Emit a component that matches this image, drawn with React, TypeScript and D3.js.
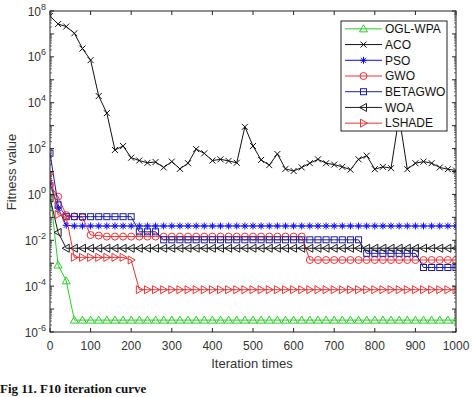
import React from "react";
import * as d3 from "d3";

const ITERS = d3.range(0, 1001, 20);

const acoValues = [6.0e7, 2.7e7, 2.1e7, 1.07e7, 2.3e6, 7.2e5, 1.95e4, 3.5e3, 87, 129, 40, 30, 24, 26, 15, 27, 13, 23, 95, 62, 30, 34, 29, 24, 890, 129, 32, 19, 58, 13, 10.5, 15, 23, 34, 23, 20, 16, 12, 34, 49, 12.6, 16, 14, 2500, 12.6, 23, 27, 23, 15, 12.6, 11];

const fill = (v: number, n: number) => Array(n).fill(v);

const oglValues = [1.3, 8.3e-4, 1.7e-4, ...fill(3.3e-6, 48)];
const psoValues = [3.2, 0.25, 0.045, ...fill(0.042, 48)];
const gwoValues = [2.5, 0.8, 0.125, 0.11, 0.1, 0.017, 0.016, ...fill(0.0145, 25), ...fill(0.00138, 19)];
const betaValues = [63, 0.35, ...fill(0.107, 9), ...fill(0.0234, 3), ...fill(0.0105, 25), ...fill(0.0027, 7), ...fill(0.00065, 5)];
const woaValues = [0.7, 0.022, ...fill(0.0045, 49)];
const lshadeValues = [8, 0.13, 0.1, ...fill(0.0018, 7), 0.00138, ...fill(7e-5, 40)];

const seriesNames = ["OGL-WPA", "ACO", "PSO", "GWO", "BETAGWO", "WOA", "LSHADE"];
const seriesValues = [oglValues, acoValues, psoValues, gwoValues, betaValues, woaValues, lshadeValues];
const seriesColors = ["#2ecc2e", "#111111", "#0a0aff", "#e8343a", "#1e1e9e", "#1a1a1a", "#e23636"];
const seriesMarkers = ["triUp", "x", "star", "circle", "square", "triLeft", "triRight"];

const xTicks = d3.range(0, 1001, 100);
const yLabelExps = [-6, -4, -2, 0, 2, 4, 6, 8];

const W = 474, H = 397;
const L = 50, R = 456, T = 11, B = 332;

function Marker({ type, x, y, color }: { type: string; x: number; y: number; color: string }) {
  const p = { fill: "none", stroke: color, strokeWidth: 1 };
  switch (type) {
    case "triUp":
      return <path d={`M${x},${y - 4}L${x + 4},${y + 3}L${x - 4},${y + 3}Z`} {...p} />;
    case "triLeft":
      return <path d={`M${x - 4},${y}L${x + 3},${y - 4}L${x + 3},${y + 4}Z`} {...p} />;
    case "triRight":
      return <path d={`M${x + 4},${y}L${x - 3},${y - 4}L${x - 3},${y + 4}Z`} {...p} />;
    case "circle":
      return <circle cx={x} cy={y} r={3.5} {...p} />;
    case "square":
      return <rect x={x - 3} y={y - 3} width={6} height={6} {...p} />;
    case "x":
      return <path d={`M${x - 3},${y - 3}L${x + 3},${y + 3}M${x - 3},${y + 3}L${x + 3},${y - 3}`} {...p} />;
    case "star":
      return (
        <path
          d={`M${x - 3.5},${y}L${x + 3.5},${y}M${x},${y - 3.5}L${x},${y + 3.5}M${x - 2.5},${y - 2.5}L${x + 2.5},${y + 2.5}M${x - 2.5},${y + 2.5}L${x + 2.5},${y - 2.5}`}
          {...p}
        />
      );
    default:
      return null;
  }
}

export default function App() {
  const x = d3.scaleLinear().domain([0, 1000]).range([L, R]);
  const y = d3.scaleLog().domain([1e-6, 1e8]).range([B, T]);
  const line = d3
    .line<number>()
    .x((_, i) => x(ITERS[i]))
    .y((d) => y(d));

  const majors = d3.range(-6, 9).map((e) => Math.pow(10, e));
  const minors: number[] = [];
  for (let e = -6; e < 8; e++) for (let k = 2; k < 10; k++) minors.push(k * Math.pow(10, e));

  const font = "'Liberation Sans', Arial, sans-serif";
  const textColor = "#333";

  const legX = 341, legY = 21, legW = 106, legH = 110;
  const rowH = legH / seriesNames.length;

  return (
    <svg width={W} height={H} style={{ position: "absolute", left: 0, top: 0, background: "#fff" }}>
      <rect x={0} y={0} width={W} height={H} fill="#fff" />
      <defs>
        <clipPath id="plotClip">
          <rect x={L} y={T} width={R - L} height={B - T} />
        </clipPath>
      </defs>
      <g clipPath="url(#plotClip)">
        {seriesValues.map((vals, si) => (
          <g key={seriesNames[si]}>
            <path d={line(vals) || ""} fill="none" stroke={seriesColors[si]} strokeWidth={1} />
            {vals.map((v, i) => (
              <Marker key={i} type={seriesMarkers[si]} x={x(ITERS[i])} y={y(v)} color={seriesColors[si]} />
            ))}
          </g>
        ))}
      </g>
      <rect x={L} y={T} width={R - L} height={B - T} fill="none" stroke="#222" strokeWidth={1} />
      {xTicks.map((t) => (
        <g key={t}>
          <line x1={x(t)} x2={x(t)} y1={B} y2={B - 4} stroke="#222" />
          <line x1={x(t)} x2={x(t)} y1={T} y2={T + 4} stroke="#222" />
          <text x={x(t)} y={350} textAnchor="middle" fontSize={12} fontFamily={font} fill={textColor}>
            {t}
          </text>
        </g>
      ))}
      {majors.map((v, i) => (
        <g key={"M" + i}>
          <line x1={L} x2={L + 4} y1={y(v)} y2={y(v)} stroke="#222" />
          <line x1={R} x2={R - 4} y1={y(v)} y2={y(v)} stroke="#222" />
        </g>
      ))}
      {minors.map((v, i) => (
        <g key={"m" + i}>
          <line x1={L} x2={L + 2} y1={y(v)} y2={y(v)} stroke="#444" strokeWidth={0.8} />
          <line x1={R} x2={R - 2} y1={y(v)} y2={y(v)} stroke="#444" strokeWidth={0.8} />
        </g>
      ))}
      {yLabelExps.map((e) => (
        <text key={e} x={46} y={y(Math.pow(10, e)) + 4.5} textAnchor="end" fontSize={12} fontFamily={font} fill={textColor}>
          10
          <tspan dy={-6} fontSize={9}>
            {e}
          </tspan>
        </text>
      ))}
      <text x={252} y={368} textAnchor="middle" fontSize={13} fontFamily={font} fill={textColor}>
        Iteration times
      </text>
      <text
        transform={`translate(16,172) rotate(-90)`}
        textAnchor="middle"
        fontSize={13}
        fontFamily={font}
        fill={textColor}
      >
        Fitness value
      </text>
      <rect x={legX} y={legY} width={legW} height={legH} fill="#fff" stroke="#222" strokeWidth={1} />
      {seriesNames.map((n, i) => {
        const cy = legY + rowH * (i + 0.5);
        return (
          <g key={n}>
            <line x1={345} x2={382} y1={cy} y2={cy} stroke={seriesColors[i]} strokeWidth={1} />
            <Marker type={seriesMarkers[i]} x={363.5} y={cy} color={seriesColors[i]} />
            <text x={385} y={cy + 4.3} fontSize={12} fontFamily={font} fill="#111">
              {n}
            </text>
          </g>
        );
      })}
      <text x={0} y={393} fontSize={13} fontWeight="bold" fontFamily="'Liberation Serif', 'Times New Roman', serif" fill="#111">
        Fig 11.  F10 iteration curve
      </text>
    </svg>
  );
}
